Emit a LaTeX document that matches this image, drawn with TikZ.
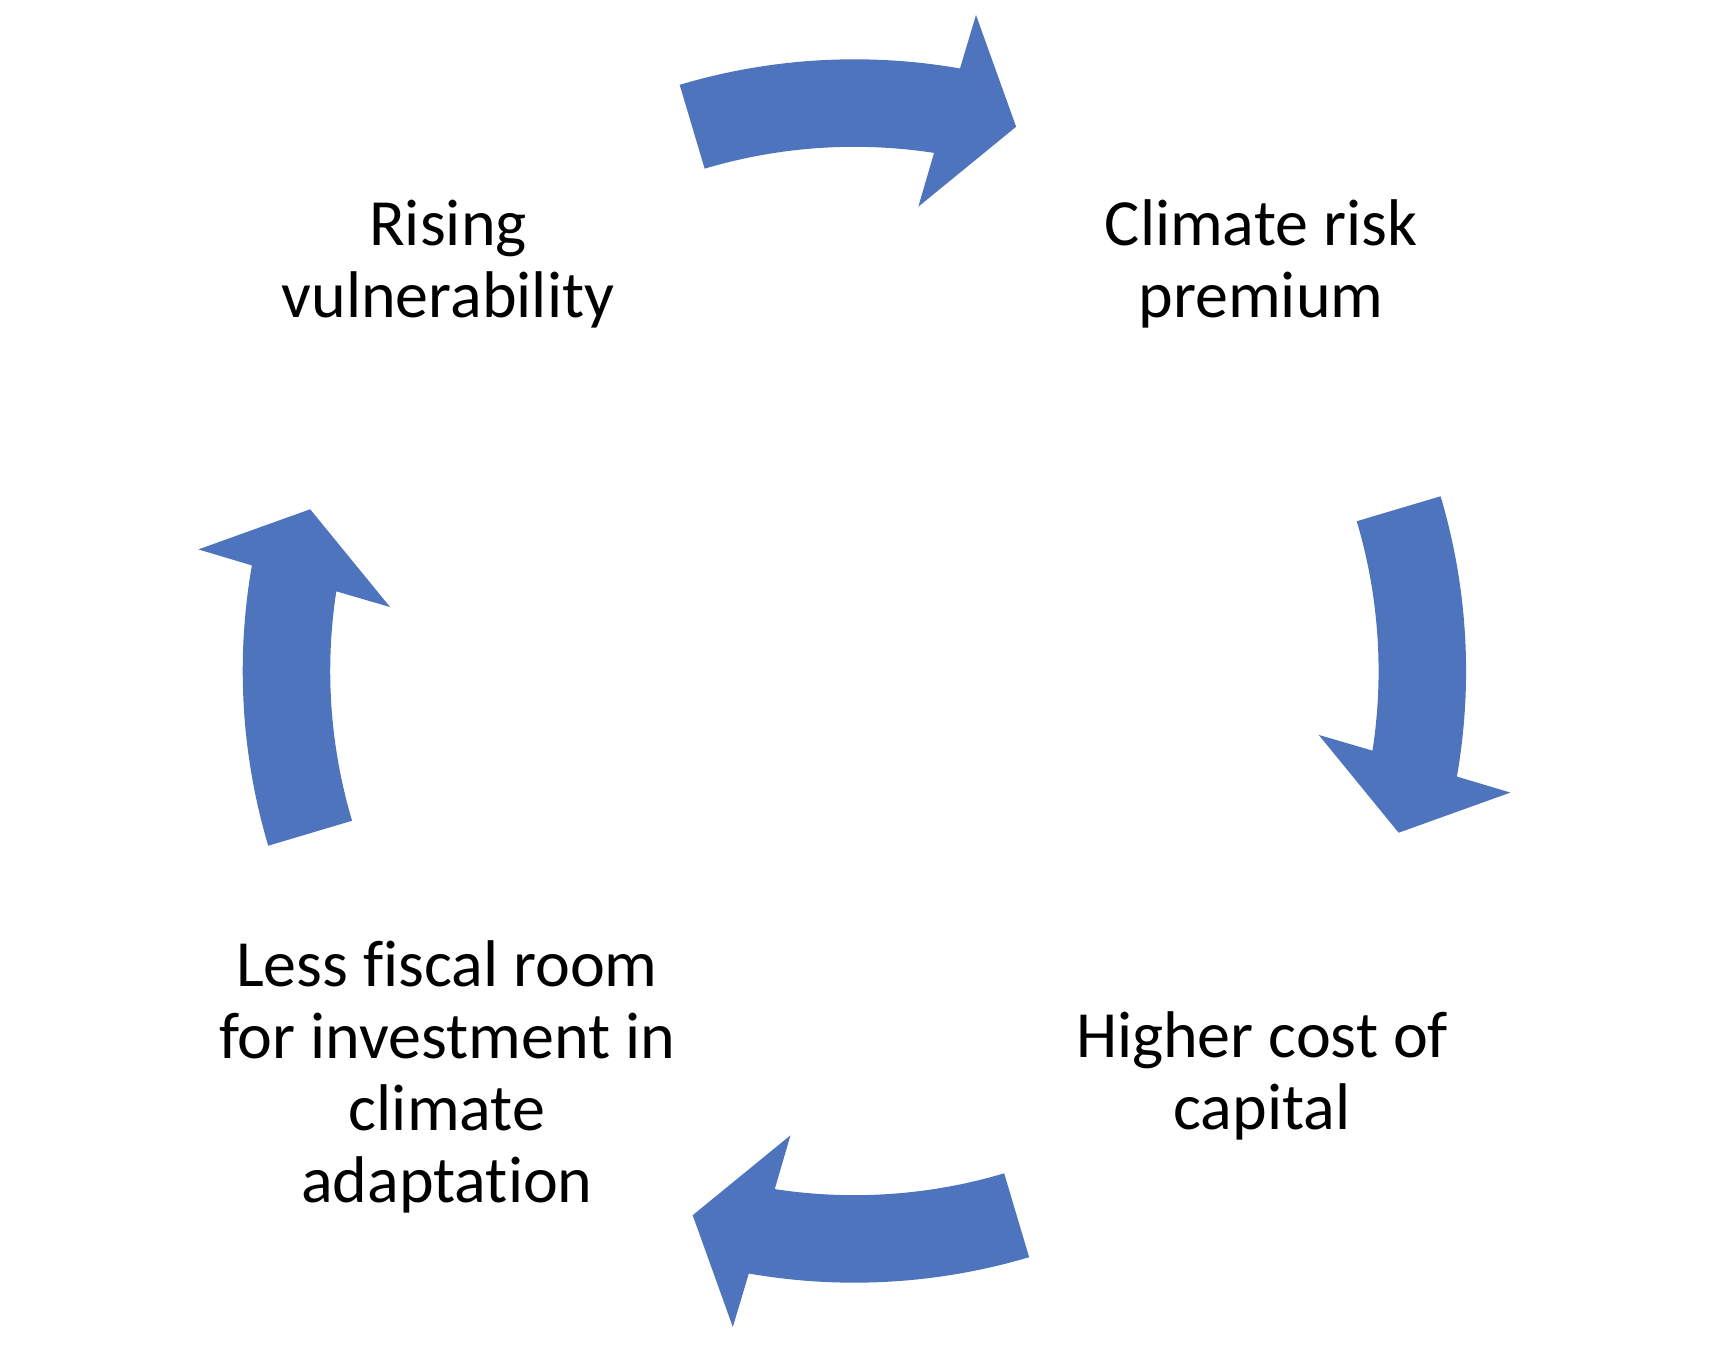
\documentclass[tikz,border=0pt]{standalone}
\usepackage{fontspec}
\setmainfont{Carlito}[Ligatures=NoCommon]
\definecolor{arrowblue}{RGB}{78,116,190}
\begin{document}
\begin{tikzpicture}[x=1pt,y=1pt,
  arrowfill/.style={fill=arrowblue},
  label/.style={align=center,anchor=base,inner sep=0pt,font=\fontsize{66}{72}\selectfont}]
\useasboundingbox (0,0) rectangle (1722,1352);
\coordinate (c) at (854.4,681);
\begin{scope}[shift={(c)}]
\foreach \t in {90,0,-90,180}{
  \fill[arrowfill] ({\t+16.6}:611.7) arc[start angle={\t+16.6}, end angle={\t-9.94}, radius=611.7]
    -- ({\t-10.5}:667.2) -- ({\t-16.55}:567.8) -- ({\t-7.84}:468.7) -- ({\t-8.74}:524.2)
    arc[start angle={\t-8.74}, end angle={\t+16.6}, radius=524.2] -- cycle;
}
\end{scope}
\node[label] (rv) at (448,1034) {Rising\\vulnerability};
\node[label] (cr) at (1261,1034) {Climate risk\\premium};
\node[label] (hc) at (1262,222) {Higher cost of\\capital};
\node[label] (lf) at (447,149) {Less fiscal room\\for investment in\\climate\\adaptation};
\end{tikzpicture}
\end{document}
